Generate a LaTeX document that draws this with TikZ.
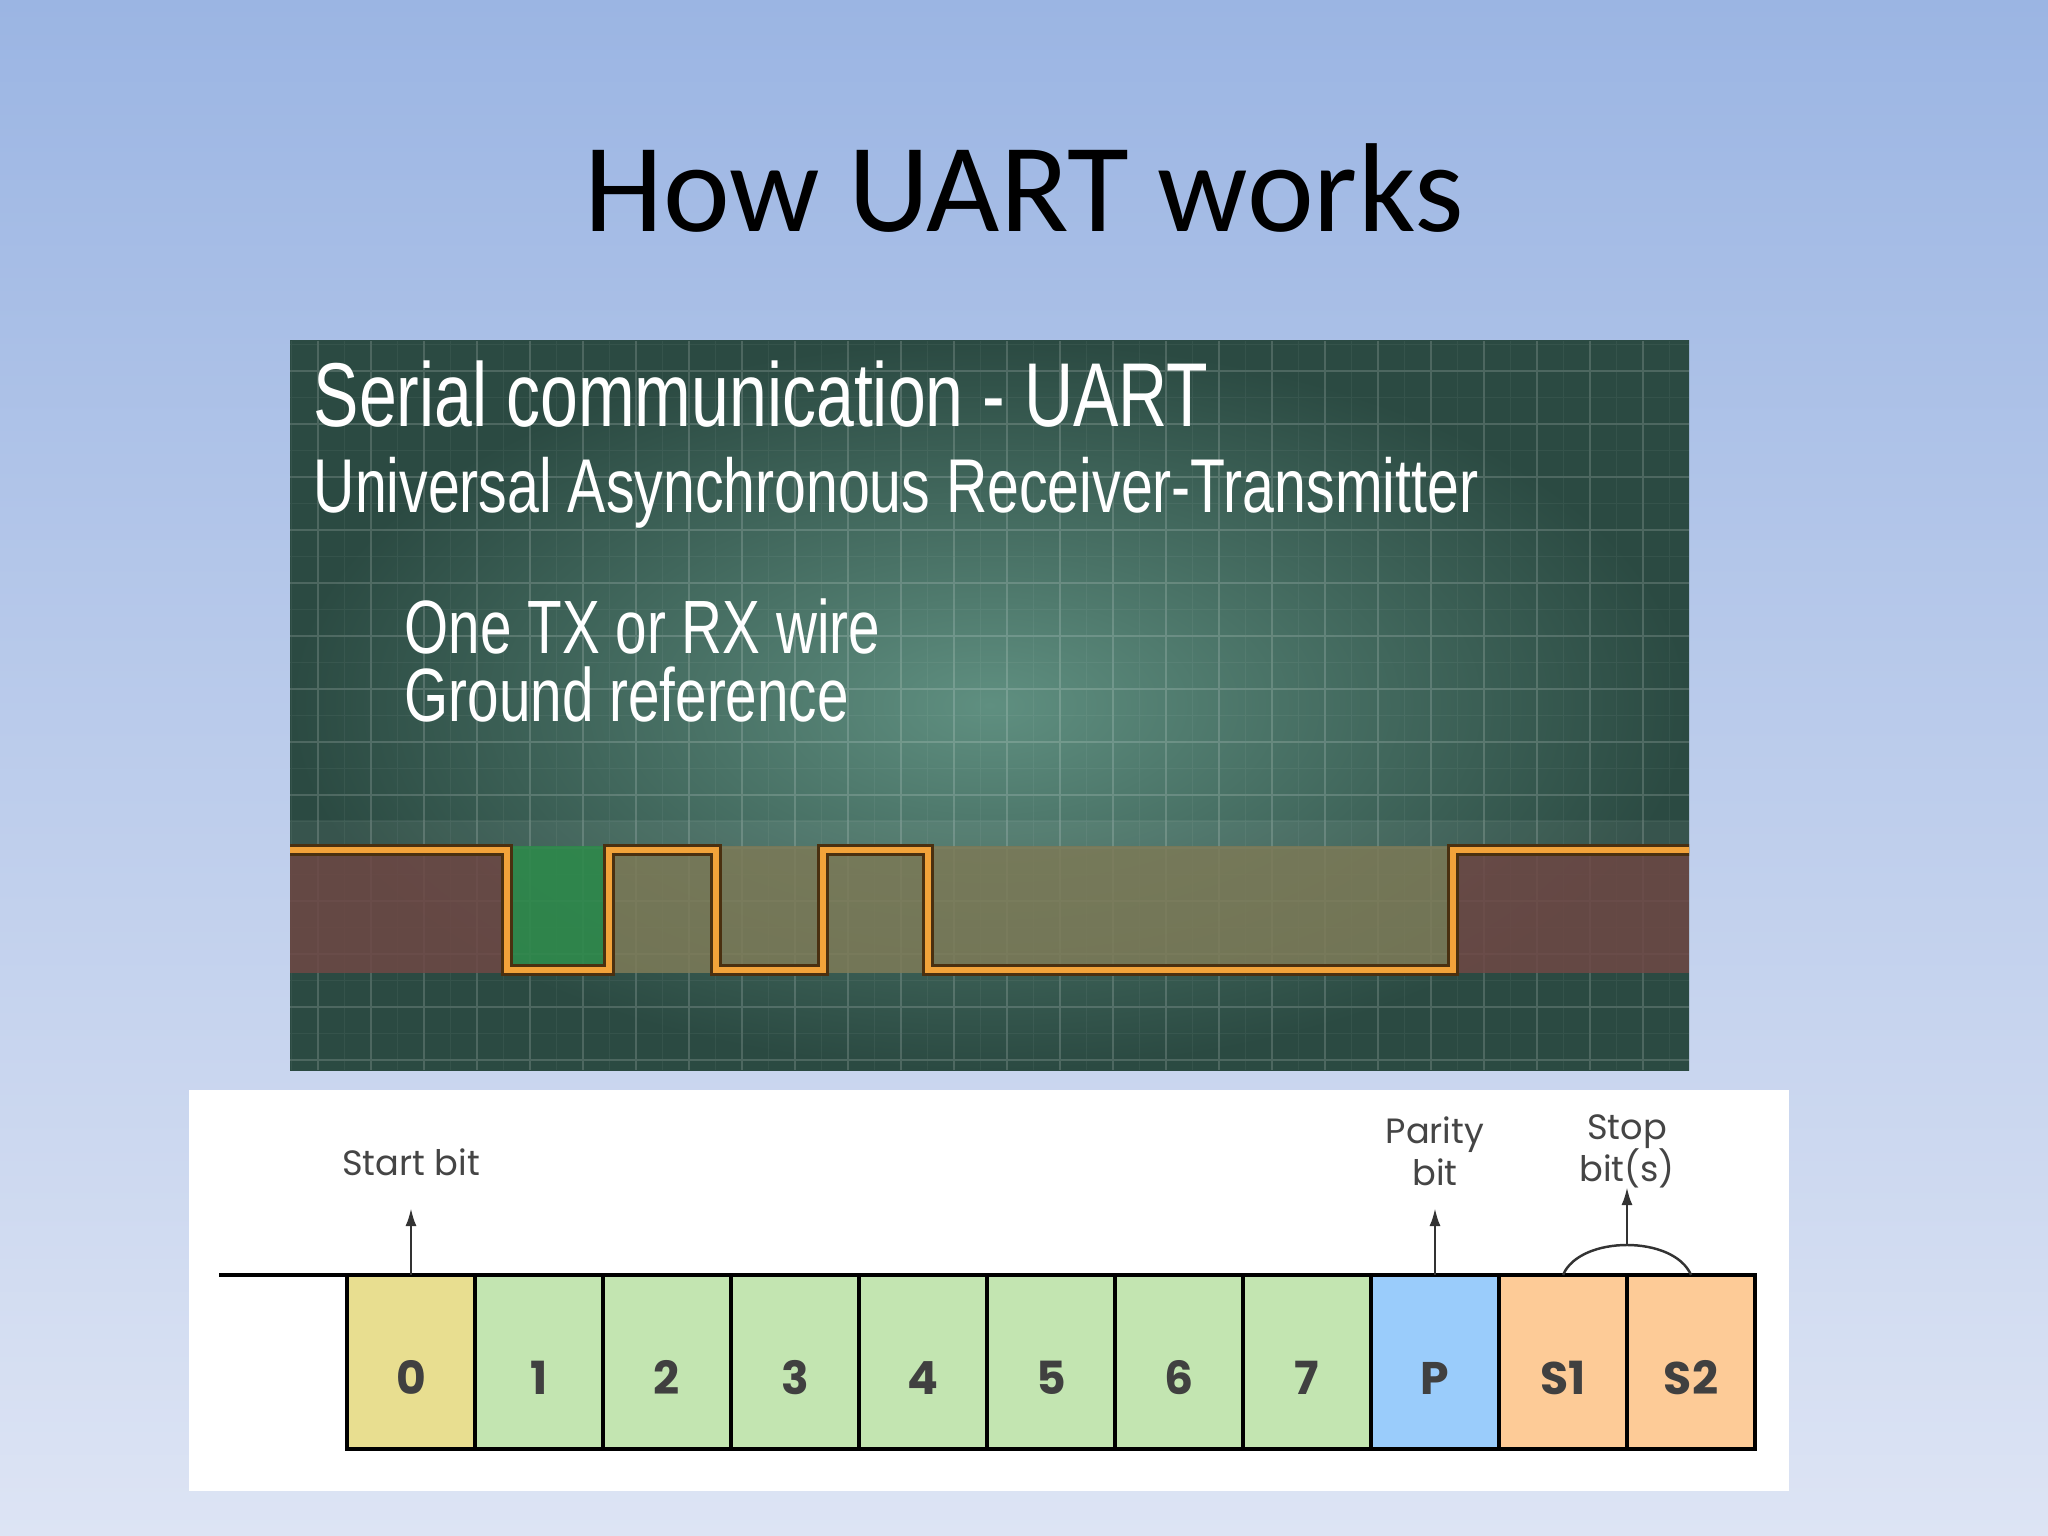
\documentclass[tikz,border=0pt]{standalone}
\usepackage{fontspec}
\setmainfont{Carlito}
\newfontfamily\kreide[FakeStretch=0.75]{Liberation Sans}
\newfontfamily\gotisch{Poppins}
\usetikzlibrary{positioning, arrows.meta, calc}
\definecolor{bgoben}{HTML}{9BB5E3}
\definecolor{bgunten}{HTML}{DDE4F4}
\definecolor{tafelrand}{HTML}{2B4A42}
\definecolor{tafelmitte}{HTML}{5F8F80}
\definecolor{bandrot}{HTML}{6F4845}
\definecolor{bandgruen}{HTML}{2F8A4C}
\definecolor{bandoliv}{HTML}{7E7B58}
\definecolor{wellegelb}{HTML}{F2A33A}
\definecolor{wellerand}{HTML}{4A3010}
\definecolor{startgelb}{HTML}{E8DE90}
\definecolor{datengruen}{HTML}{C3E5B1}
\definecolor{paritaetblau}{HTML}{9ACCFB}
\definecolor{stoppfirsich}{HTML}{FDCB97}
\definecolor{ziffer}{HTML}{404040}
\definecolor{linie}{HTML}{333333}
\definecolor{schrift}{HTML}{454545}
\tikzset{bit/.style={rectangle,draw=black,line width=0.9pt,minimum width=1.28cm,
		minimum height=1.74cm,inner sep=0,outer sep=0,text height=0.64cm,text depth=0cm,
		font=\gotisch\bfseries\fontsize{13}{13}\selectfont,text=ziffer},
	startbit/.style={bit,fill=startgelb},
	datenbit/.style={bit,fill=datengruen},
	paritaetbit/.style={bit,fill=paritaetblau},
	stoppbit/.style={bit,fill=stoppfirsich},
	beschriftung/.style={align=center,inner sep=0,text=schrift,
		font=\gotisch\fontsize{10}{12}\selectfont},
	pfeil/.style={draw=linie,line width=0.8pt,-{Latex[length=1.8mm,width=1.1mm]}},
	kreidetext/.style={anchor=base west,inner sep=0,text=white,
		text height=0.6cm,text depth=0.12cm},
	welle/.style={draw=wellerand,line width=0.8pt,double=wellegelb,
		double distance=1.6pt,line join=miter} }

\begin{document}
\begin{tikzpicture}
	[node distance=0pt]
  \useasboundingbox (0,0) rectangle (20.48,-15.36);
  \shade[top color=bgoben, bottom color=bgunten] (0,0) rectangle (20.48,-15.36);

  \node (titel) [anchor=base, font=\fontsize{36}{40}\selectfont] at (10.24,-2.32) {How UART works};

  \shade[inner color=tafelmitte, outer color=tafelrand] (2.90,-3.41) rectangle (16.89,-10.70);
  \begin{scope}
  	\clip (2.90,-3.41) rectangle (16.89,-10.70);
  	\draw[white, opacity=0.05, line width=0.4pt] (2.90,-10.70) grid[step=0.265] (16.89,-3.41);
  	\draw[white, opacity=0.12, line width=0.8pt] (2.90,-10.70) grid[step=0.53] (16.89,-3.41);
  	\fill[white, opacity=0.06] (2.90,-8.20) rectangle (16.89,-8.46);
  	\fill[bandrot, opacity=0.85] (2.90,-8.46) rectangle (5.07,-9.73);
  	\fill[bandgruen, opacity=0.9] (5.07,-8.46) rectangle (6.09,-9.73);
  	\fill[bandoliv, opacity=0.85] (6.09,-8.46) rectangle (14.53,-9.73);
  	\fill[bandrot, opacity=0.85] (14.53,-8.46) rectangle (16.89,-9.73);
  	\draw[welle] (2.80,-8.50) -| (5.07,-9.70) -| (6.09,-8.50) -| (7.16,-9.70)
  		-| (8.23,-8.50) -| (9.28,-9.70) -| (14.53,-8.50) -- (17.00,-8.50);
  \end{scope}

  \node (zeile1) [kreidetext, font=\kreide\fontsize{25.8}{26}\selectfont] at (3.13,-4.27) {Serial  communication  -  UART};
  \node (zeile2) [kreidetext, font=\kreide\fontsize{21.7}{22}\selectfont] at (3.13,-5.12) {Universal  Asynchronous  Receiver-Transmitter};
  \node (zeile3) [kreidetext, text height=0.56cm, text depth=0cm, font=\kreide\fontsize{21.5}{22}\selectfont] at (4.04,-6.53) {One  TX  or  RX  wire};
  \node (zeile4) [kreidetext, text height=0.56cm, text depth=0.05cm, font=\kreide\fontsize{21.5}{22}\selectfont] at (4.04,-7.21) {Ground  reference};

  \fill[white] (1.89,-10.90) rectangle (17.89,-14.91);

  \node (b0) [startbit, anchor=north west] at (3.47,-12.75) {0};
  \node (b1) [datenbit, right=of b0] {1};
  \node (b2) [datenbit, right=of b1] {2};
  \node (b3) [datenbit, right=of b2] {3};
  \node (b4) [datenbit, right=of b3] {4};
  \node (b5) [datenbit, right=of b4] {5};
  \node (b6) [datenbit, right=of b5] {6};
  \node (b7) [datenbit, right=of b6] {7};
  \node (bP) [paritaetbit, right=of b7] {P};
  \node (bS1) [stoppbit, right=of bP] {S1};
  \node (bS2) [stoppbit, right=of bS1] {S2};

  \coordinate (ruhe) at (2.19,-12.75);
  \draw[black, line width=0.9pt] (ruhe) -- (b0.north west);

  \node (startlbl) [beschriftung] at ([yshift=11.3mm]b0.north) {Start bit};
  \node (paritaetlbl) [beschriftung] at ([yshift=12.4mm]bP.north) {Parity\\bit};
  \node (stopplbl) [beschriftung] at ([yshift=12.4mm]bS1.north east) {Stop\\bit(s)};

  \coordinate (startspitze) at ([yshift=6.7mm]b0.north);
  \coordinate (paritaetspitze) at ([yshift=6.7mm]bP.north);
  \coordinate (stoppfuss) at ([yshift=3mm]bS1.north east);
  \coordinate (stoppspitze) at ([yshift=8.8mm]bS1.north east);

  \draw[pfeil] (b0.north) -- (startspitze);
  \draw[pfeil] (bP.north) -- (paritaetspitze);
  \draw[draw=linie, line width=0.7pt] (bS1.north) .. controls ($(bS1.north)+(0.17,0.40)$) and ($(bS2.north)+(-0.17,0.40)$) .. (bS2.north);
  \draw[pfeil] (stoppfuss) -- (stoppspitze);
\end{tikzpicture}
\end{document}
